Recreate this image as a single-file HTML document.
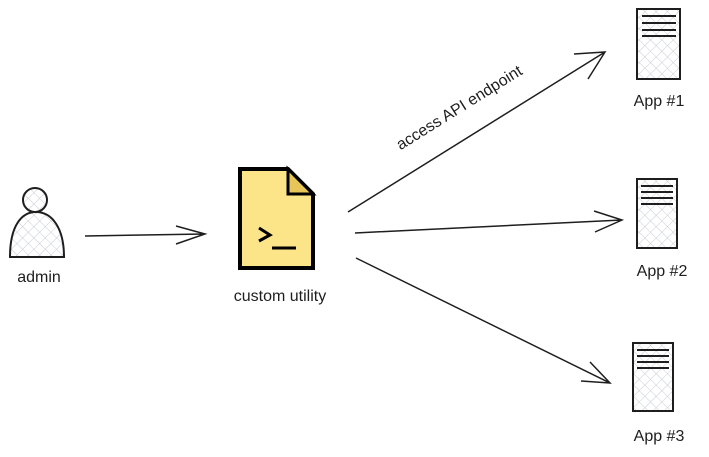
<!DOCTYPE html><html><head><style>body{margin:0;background:#fff}svg{display:block}text{font-family:"Liberation Sans",sans-serif;font-size:16px;fill:#1e1e1e}</style></head><body>
<svg width="709" height="457" viewBox="0 0 709 457">
<defs><pattern id="h" width="8" height="8" patternUnits="userSpaceOnUse" patternTransform="rotate(45)"><path d="M0 0V8M0 0H8" stroke="#c9ccd4" stroke-width="1"/></pattern></defs>
<g stroke="#1e1e1e" stroke-width="2" fill="url(#h)">
<circle cx="35" cy="200" r="12"/>
<path d="M10 257 C10 225 22 212 36 212 C52 212 64 228 64 257 Z"/>
<rect x="637" y="9" width="43" height="70"/>
<rect x="637" y="179" width="40" height="69"/>
<rect x="633" y="343" width="40" height="68"/>
</g>
<g stroke="#1e1e1e" stroke-width="2">
<path d="M642 16H676M642 23H676M642 30H676M642 36H676"/>
<path d="M641 186H673M641 192H673M641 198H673M641 204H673"/>
<path d="M637 350H669M637 356H669M637 362H669M637 368H669"/>
</g>
<path d="M240 169H288L313 194V268H240Z" fill="#fce588" stroke="#000" stroke-width="4"/>
<path d="M288 169V194H313Z" fill="#e8c558" stroke="#000" stroke-width="3"/>
<path d="M259 228L270 235L259 241M272 248H296" fill="none" stroke="#000" stroke-width="3"/>
<g stroke="#1e1e1e" stroke-width="1.5" fill="none">
<path d="M85 236L205 234M176 226L205 234L176 244"/>
<path d="M348 212L605 52M574 54L605 52L588 79"/>
<path d="M355 233L622 220M594 211L622 220L595 232"/>
<path d="M356 258L610 383M590 362L610 383L581 381"/>
</g>
<text x="39" y="282" text-anchor="middle">admin</text>
<text x="280" y="301" text-anchor="middle">custom utility</text>
<text x="659" y="106" text-anchor="middle">App #1</text>
<text x="662" y="276" text-anchor="middle">App #2</text>
<text x="659" y="441" text-anchor="middle">App #3</text>
<text x="462" y="112" text-anchor="middle" transform="rotate(-32 462 112)">access API endpoint</text>
</svg></body></html>
